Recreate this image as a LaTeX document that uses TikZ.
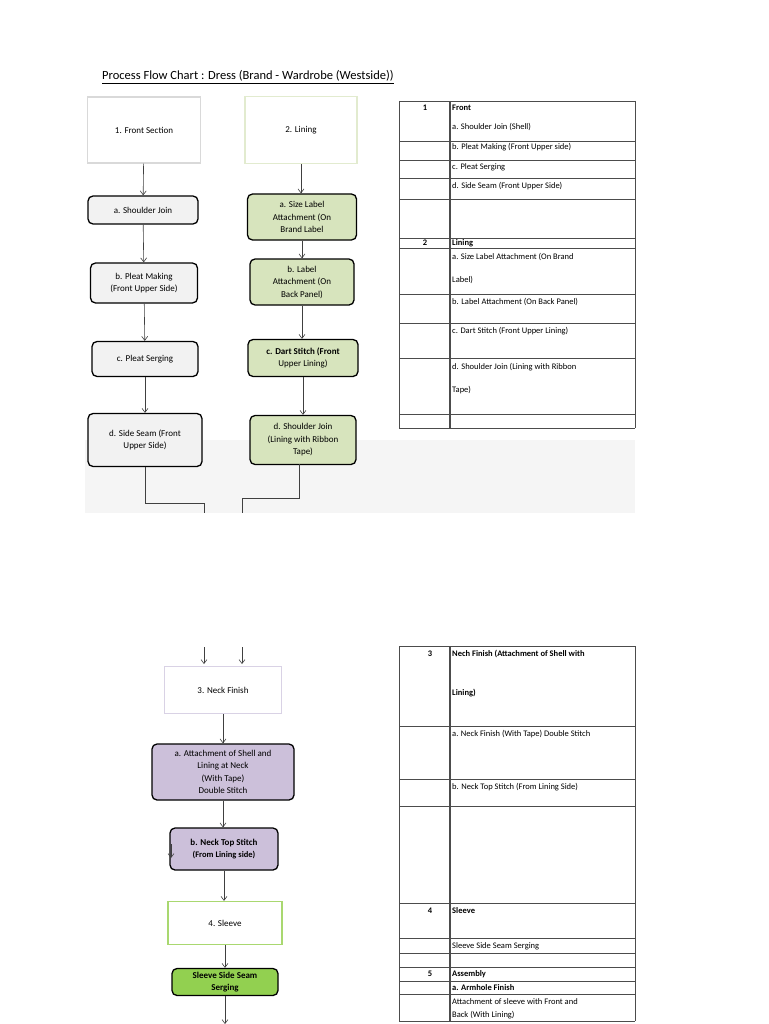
\documentclass[tikz,border=0pt]{standalone}
\usepackage{fontspec}
\setmainfont{Carlito}
\usetikzlibrary{arrows.meta}
\definecolor{grayfill}{HTML}{F2F2F2}
\definecolor{grayedge}{HTML}{D9D9D9}
\definecolor{olivefill}{HTML}{D7E4BD}
\definecolor{oliveedge}{HTML}{E2EBCF}
\definecolor{lavfill}{HTML}{CCC0DA}
\definecolor{lavedge}{HTML}{D9D2E5}
\definecolor{greenedge}{HTML}{A9D870}
\definecolor{greenfill}{HTML}{92D050}
\begin{document}
\begin{tikzpicture}[x=1pt,y=-1pt,
  head/.style={draw, line width=1.2pt, inner sep=1pt, align=center, font=\fontsize{9}{12}\selectfont},
  stp/.style={draw, line width=1.3pt, rounded corners=5pt, inner sep=1pt, align=center, font=\fontsize{9}{12.5}\selectfont},
  arr/.style={-{Straight Barb[length=4pt,width=6pt]}, line width=0.6pt, draw=black!75},
  ln/.style={line width=0.6pt, draw=black!75},
  tl/.style={line width=0.8pt, draw=black!70},
  tt/.style={anchor=base west, inner sep=0pt, font=\fontsize{8.5}{10}\selectfont},
  tn/.style={anchor=base, inner sep=0pt, font=\fontsize{8.5}{10}\selectfont\bfseries}]
\useasboundingbox (0,0) rectangle (768,1024);
\fill[black!4] (85,440) rectangle (635,513);
\node[anchor=base west, inner sep=0pt, font=\fontsize{12.5}{14}\selectfont] (title) at (102,80) {\underline{Process Flow Chart : Dress (Brand - Wardrobe (Westside))}};
% left column
\node[head, draw=grayedge, minimum width=113pt, minimum height=66pt] (fs) at (144,130) {1. Front Section};
\node[stp, fill=grayfill, minimum width=110pt, minimum height=28pt] (a1) at (143,210) {a. Shoulder Join};
\node[stp, fill=grayfill, minimum width=107pt, minimum height=40pt] (b1) at (144,283) {b. Pleat Making\\(Front Upper Side)};
\node[stp, fill=grayfill, minimum width=106pt, minimum height=35pt] (c1) at (145,359) {c. Pleat Serging};
\node[stp, fill=grayfill, minimum width=114pt, minimum height=53pt] (d1) at (145,440) {d. Side Seam (Front\\Upper Side)};
\draw[arr] (fs) -- (a1);
\draw[arr] (a1) -- (b1);
\draw[arr] (b1) -- (c1);
\draw[arr] (c1) -- (d1);
\coordinate (l1) at (204,513);
\draw[ln] (d1.south) -- (145,503) -- (204,503) -- (l1);
% right column
\node[head, draw=oliveedge, minimum width=112pt, minimum height=67pt] (li) at (301,130) {2. Lining};
\node[stp, fill=olivefill, minimum width=109pt, minimum height=46pt] (a2) at (302,217) {a. Size Label\\Attachment (On\\Brand Label};
\node[stp, fill=olivefill, minimum width=104pt, minimum height=46pt] (b2) at (302,282) {b. Label\\Attachment (On\\Back Panel)};
\node[stp, fill=olivefill, minimum width=110pt, minimum height=37pt] (c2) at (303,358) {\textbf{c. Dart Stitch (Front}\\Upper Lining)};
\node[stp, fill=olivefill, minimum width=106pt, minimum height=49pt] (d2) at (303,440) {d. Shoulder Join\\(Lining with Ribbon\\Tape)};
\draw[arr] (li) -- (li|-a2.north);
\draw[arr] (a2) -- (a2|-b2.north);
\draw[arr] (b2) -- (b2|-c2.north);
\draw[arr] (c2) -- (d2);
\coordinate (l2) at (242,513);
\draw[ln] (299,464) -- (299,498) -- (242,498) -- (l2);
% top table
\foreach \y in {101,141,160,178,199,238,248,294,323,358,414,428} \draw[tl] (399,\y) -- (635,\y);
\draw[tl] (399,101) -- (399,428);
\draw[tl] (635,101) -- (635,428);
\draw[line width=1.2pt, draw=black!70] (450,101) -- (450,428);
\node[tn] (n1) at (425,111) {1};
\node[tt, font=\fontsize{8.5}{10}\selectfont\bfseries] (t1) at (452,111) {Front};
\node[tt] (t2) at (452,130) {a. Shoulder Join (Shell)};
\node[tt] (t3) at (452,150) {b. Pleat Making (Front Upper side)};
\node[tt] (t4) at (452,170) {c. Pleat Serging};
\node[tt] (t5) at (452,189) {d. Side Seam (Front Upper Side)};
\node[tn] (n2) at (425,245) {2};
\node[tt, font=\fontsize{8.5}{10}\selectfont\bfseries] (t6) at (452,245) {Lining};
\node[tt] (t7) at (452,259) {a. Size Label Attachment (On Brand};
\node[tt] (t8) at (452,282) {Label)};
\node[tt] (t9) at (452,304) {b. Label Attachment (On Back Panel)};
\node[tt] (t10) at (452,333) {c. Dart Stitch (Front Upper Lining)};
\node[tt] (t11) at (452,369) {d. Shoulder Join (Lining with Ribbon};
\node[tt] (t12) at (452,392) {Tape)};
% bottom flow
\coordinate (s1) at (204,647);
\coordinate (s2) at (242,647);
\draw[arr] (s1) -- (204,664);
\draw[arr] (s2) -- (242,664);
\node[head, draw=lavedge, minimum width=117pt, minimum height=47pt] (nf) at (223,690) {3. Neck Finish};
\node[stp, fill=lavfill, minimum width=142pt, minimum height=56pt] (a3) at (223,772) {a. Attachment of Shell and\\Lining at Neck\\(With Tape)\\Double Stitch};
\node[stp, fill=lavfill, minimum width=108pt, minimum height=42pt] (b3) at (224,849) {\textbf{b. Neck Top Stitch}\\{\fontsize{8.5}{10}\selectfont\bfseries (From Lining side)}};
\node[head, draw=greenedge, minimum width=114pt, minimum height=43pt] (sl) at (225,923) {4. Sleeve};
\node[stp, fill=greenfill, minimum width=106pt, minimum height=27pt] (ss) at (225,982) {\textbf{Sleeve Side Seam}\\\textbf{Serging}};
\draw[arr] (nf) -- (nf|-a3.north);
\draw[arr] (a3) -- (a3|-b3.north);
\draw[arr] (b3) -- (b3|-sl.north);
\draw[arr] (sl) -- (sl|-ss.north);
\coordinate (e1) at (225,1024);
\draw[arr] (ss) -- (e1);
\coordinate (k1) at (171,844);
\coordinate (k2) at (171,858);
\draw[arr] (k1) -- (k2);
% bottom table
\foreach \y in {646,726,779,806,903,938,953,967,981,994,1021} \draw[tl] (399,\y) -- (635,\y);
\draw[tl] (399,646) -- (399,1021);
\draw[tl] (635,646) -- (635,1021);
\draw[line width=1.2pt, draw=black!70] (450,646) -- (450,1021);
\node[tn] (n3) at (430,656) {3};
\node[tt, font=\fontsize{8.5}{10}\selectfont\bfseries] (u1) at (452,656) {Nech Finish (Attachment of Shell with};
\node[tt, font=\fontsize{8.5}{10}\selectfont\bfseries] (u2) at (452,695) {Lining)};
\node[tt] (u3) at (452,736) {a. Neck Finish (With Tape) Double Stitch};
\node[tt] (u4) at (452,789) {b. Neck Top Stitch (From Lining Side)};
\node[tn] (n4) at (430,913) {4};
\node[tt, font=\fontsize{8.5}{10}\selectfont\bfseries] (u5) at (452,913) {Sleeve};
\node[tt] (u6) at (452,948) {Sleeve Side Seam Serging};
\node[tn] (n5) at (430,976) {5};
\node[tt, font=\fontsize{8.5}{10}\selectfont\bfseries] (u7) at (452,976) {Assembly};
\node[tt, font=\fontsize{8.5}{10}\selectfont\bfseries] (u8) at (452,990) {a. Armhole Finish};
\node[tt] (u9) at (452,1004) {Attachment of sleeve with Front and};
\node[tt] (u10) at (452,1017) {Back (With Lining)};
\end{tikzpicture}
\end{document}
